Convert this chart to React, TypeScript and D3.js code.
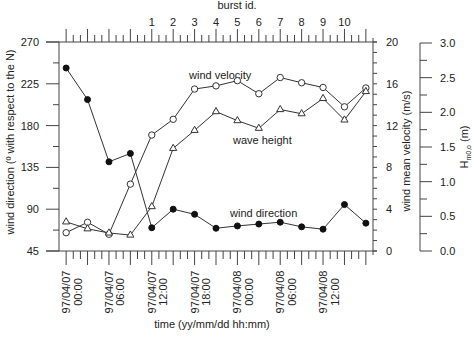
import React from "react";
import * as d3 from "d3";

const hours = [0, 3, 6, 9, 12, 15, 18, 21, 24, 27, 30, 33, 36, 39, 42];
const windDirection = [242, 208, 141, 150, 70, 90, 84.5, 69.5, 72, 74, 76, 71, 68.5, 95, 75];
const windVelocity = [1.75, 2.75, 1.6, 6.4, 11.1, 12.6, 15.5, 15.8, 16.3, 15.05, 16.6, 16.1, 15.65, 13.8, 15.6];
const waveHeight = [0.42, 0.32, 0.26, 0.23, 0.64, 1.48, 1.74, 2.01, 1.88, 1.77, 2.04, 1.98, 2.2, 1.89, 2.3];

const burstIds = ["1", "2", "3", "4", "5", "6", "7", "8", "9", "10"];
const burstHours = [12, 15, 18, 21, 24, 27, 30, 33, 36, 39];

const timeTickHours = [0, 6, 12, 18, 24, 30, 36];
const timeTickDates = ["97/04/07", "97/04/07", "97/04/07", "97/04/07", "97/04/08", "97/04/08", "97/04/08"];
const timeTickTimes = ["00:00", "06:00", "12:00", "18:00", "00:00", "06:00", "12:00"];

const dirTicks = [45, 90, 135, 180, 225, 270];
const velTicks = [0, 4, 8, 12, 16, 20];
const hTicks = [0, 0.5, 1.0, 1.5, 2.0, 2.5, 3.0];

const L = 59, R = 373, T = 42, B = 251;
const AX = "#444";
const LN = "#333";
const TX = "#222";
const FONT = "'Liberation Sans', Arial, sans-serif";

export default function App() {
  const x = d3.scaleLinear().domain([-1, 43]).range([L, R]);
  const yDir = d3.scaleLinear().domain([45, 270]).range([B, T]);
  const yVel = d3.scaleLinear().domain([0, 20]).range([B, T]);
  const yH = d3.scaleLinear().domain([0, 3]).range([B, T + 1]);

  const dirLine = d3.line<number>().x((_, i) => x(hours[i])).y((d) => yDir(d));
  const velLine = d3.line<number>().x((_, i) => x(hours[i])).y((d) => yVel(d));
  const hLine = d3.line<number>().x((_, i) => x(hours[i])).y((d) => yH(d));

  const hourTicks = d3.range(0, 43, 1);
  const dirMinor = d3.range(67.5, 270, 45);
  const velMinor = d3.range(0, 21, 1);
  const hMinor = d3.range(0.25, 3, 0.5);
  const HX = 420;

  const tri = d3.symbol().type(d3.symbolTriangle).size(22)() as string;

  return (
    <svg width={474} height={345} style={{ position: "absolute", left: 0, top: 0 }} fontFamily={FONT}>
      <rect width={474} height={345} fill="#fff" />
      {/* frame */}
      <g stroke={AX} strokeWidth={1} fill="none">
        <line x1={L} y1={T} x2={L} y2={B} />
        <line x1={L - 13} y1={B} x2={R + 4} y2={B} />
        <line x1={L - 13} y1={T} x2={R + 4} y2={T} />
        <line x1={R} y1={T - 4} x2={R} y2={B + 4} />
        {hourTicks.map((h) => {
          const major = h % 3 === 0;
          return (
            <g key={"ht" + h}>
              <line x1={x(h)} x2={x(h)} y1={B} y2={B + (major ? 14 : 8)} />
              <line x1={x(h)} x2={x(h)} y1={T} y2={T - (major ? 13 : 7)} />
            </g>
          );
        })}
        {dirTicks.map((v) => (
          <line key={"dt" + v} x1={L - 13} x2={L} y1={yDir(v)} y2={yDir(v)} />
        ))}
        {dirMinor.map((v) => (
          <line key={"dm" + v} x1={L - 6} x2={L} y1={yDir(v)} y2={yDir(v)} />
        ))}
        {velMinor.map((v) => (
          <line key={"vm" + v} x1={R} x2={R + 4} y1={yVel(v)} y2={yVel(v)} />
        ))}
        <line x1={HX} x2={HX} y1={yH(3)} y2={yH(0)} />
        {hTicks.map((v) => (
          <line key={"hh" + v} x1={HX} x2={HX + 12} y1={yH(v)} y2={yH(v)} />
        ))}
        {hMinor.map((v) => (
          <line key={"hm" + v} x1={HX} x2={HX + 7} y1={yH(v)} y2={yH(v)} />
        ))}
      </g>

      <g fontSize={11} fill={TX}>
        {dirTicks.map((v) => (
          <text key={"dl" + v} x={L - 20} y={yDir(v)} dy="0.36em" textAnchor="end">{v}</text>
        ))}
        {velTicks.map((v) => (
          <text key={"vl" + v} x={R + 13} y={yVel(v)} dy="0.36em">{v}</text>
        ))}
        {hTicks.map((v) => (
          <text key={"hl" + v} x={HX + 20} y={yH(v)} dy="0.36em">{d3.format(".1f")(v)}</text>
        ))}
        {burstIds.map((b, i) => (
          <text key={"b" + b} x={x(burstHours[i])} y={26} textAnchor="middle">{b}</text>
        ))}
        {timeTickHours.map((h, i) => (
          <g key={"tl" + h}>
            <text transform={`translate(${x(h) + 4},292) rotate(-90)`} textAnchor="middle">{timeTickDates[i]}</text>
            <text transform={`translate(${x(h) + 15.5},292) rotate(-90)`} textAnchor="middle">{timeTickTimes[i]}</text>
          </g>
        ))}
        <text x={237} y={9} textAnchor="middle">burst id.</text>
        <text x={212} y={328} textAnchor="middle">time (yy/mm/dd hh:mm)</text>
        <text transform={`translate(14,142) rotate(-90)`} textAnchor="middle">wind direction (º with respect to the N)</text>
        <text transform={`translate(410,151) rotate(-90)`} textAnchor="middle">wind mean velocity (m/s)</text>
        <text transform={`translate(468,147) rotate(-90)`} textAnchor="middle">
          H<tspan fontSize={7} dy={3}>m0,o</tspan><tspan dy={-3}> (m)</tspan>
        </text>
        <text x={189} y={79}>wind velocity</text>
        <text x={233} y={144}>wave height</text>
        <text x={230} y={216.5}>wind direction</text>
      </g>

      <g fill="none" stroke={LN} strokeWidth={1}>
        <path d={dirLine(windDirection) as string} />
        <path d={velLine(windVelocity) as string} />
        <path d={hLine(waveHeight) as string} />
      </g>
      <g>
        {windDirection.map((v, i) => (
          <circle key={"dc" + i} cx={x(hours[i])} cy={yDir(v)} r={3} fill="#111" stroke="#111" />
        ))}
        {windVelocity.map((v, i) => (
          <circle key={"vc" + i} cx={x(hours[i])} cy={yVel(v)} r={3.2} fill="#fff" stroke={LN} strokeWidth={1} />
        ))}
        {waveHeight.map((v, i) => (
          <path key={"ht" + i} d={tri} transform={`translate(${x(hours[i])},${yH(v)})`} fill="#fff" stroke={LN} strokeWidth={1} />
        ))}
      </g>
    </svg>
  );
}
